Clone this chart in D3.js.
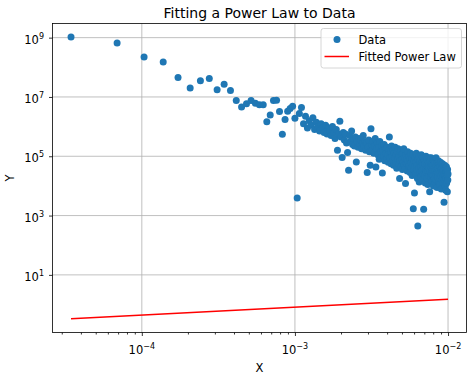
<!DOCTYPE html>
<html><head><meta charset="utf-8">
<script src="https://cdn.jsdelivr.net/npm/d3@7"></script>
<style>body{margin:0;background:#fff}svg{display:block;font-family:"DejaVu Sans",sans-serif}</style>
</head><body><svg id="c" width="474" height="381"></svg>
<script>
// ---- data ----
const title = "Fitting a Power Law to Data";
const xLabel = "X", yLabel = "Y";
const seriesNames = ["Data", "Fitted Power Law"];
const totalCount = 29000;
const ranks = [1,2,3,4,5,6,7,8,9,10,11,12,13,14,15,16,17,18,19,20,21,22,23,24,25,26,27,28,29,30,
31,32,33,34,35,36,37,38,39,40,41,42,43,44,45,46,47,48,49,50,51,52,53,54,55,56,57,58,59,60,
61,62,63,64,65,66,67,68,69,70,71,72,73,74,75,76,77,78,79,80,81,82,83,84,85,86,87,88,89,90,
91,92,93,94,95,96,97,98,99,100,101,102,103,104,105,106,107,108,109,110,111,112,113,114,115,116,117,118,119,120,
121,122,123,124,125,126,127,128,129,130,131,132,133,134,135,136,137,138,139,140,141,142,143,144,145,146,147,148,149,150,
151,152,153,154,155,156,157,158,159,160,161,162,163,164,165,166,167,168,169,170,171,172,173,174,175,176,177,178,179,180,
181,182,183,184,185,186,187,188,189,190,191,192,193,194,195,196,197,198,199,200,201,202,203,204,205,206,207,208,209,210,
211,212,213,214,215,216,217,218,219,220,221,222,223,224,225,226,227,228,229,230,231,232,233,234,235,236,237,238,239,240,
241,242,243,244,245,246,247,248,249,250,251,252,253,254,255,256,257,258,259,260,261,262,263,264,265,266,267,268,269,270,
271,272,273,274,275,276,277,278,279,280,281,282,283,284,285,286,287,288,289,290];
const yValues = [1.05e9,6.6e8,2.24e8,1.51e8,4.57e7,2.0e7,3.55e7,4.17e7,1.74e7,2.69e7,
1.66e7,7.59e6,4.57e6,5.89e6,7.59e6,6.17e6,5.5e6,5.5e6,1.45e6,2.45e6,
7.59e6,7.76e6,3.24e6,5.5e5,1.74e6,3.31e6,4.07e6,4.9e6,1.91e6,3.89e3,
2.75e6,4.37e6,1.26e6,2.24e6,8.91e5,1.58e6,1.12e6,2.0e6,7.94e5,1.41e6,
1.0e6,7.08e5,1.26e6,8.91e5,6.31e5,1.12e6,5.62e5,8.91e5,7.08e5,5.01e5,
1.0e6,6.31e5,3.98e5,7.94e5,1.58e5,5.62e5,1.51e6,4.47e5,9.12e4,6.31e5,
3.55e5,5.62e5,2.82e5,1.35e5,3.39e4,5.01e5,3.16e5,7.08e5,2.51e5,3.98e5,
2.24e5,4.47e5,6.46e4,3.16e5,2.0e5,3.98e5,2.51e5,3.55e5,1.78e5,2.82e5,
5.01e5,2.24e5,3.16e5,1.58e5,2.82e5,2.82e4,2.0e5,3.55e5,1.41e5,5.01e4,
8.51e5,2.51e5,1.58e5,3.16e5,1.26e5,2.24e5,3.98e5,4.37e4,1.78e5,2.82e5,
1.12e5,2.0e5,7.94e4,3.16e5,1.41e5,8.91e4,2.24e5,2.75e4,1.58e5,1.0e5,
2.51e5,7.08e4,1.78e5,1.26e5,7.94e4,2.0e5,1.12e5,6.31e4,1.58e5,4.47e5,
8.91e4,1.41e5,5.62e4,2.24e5,1.0e5,7.08e4,1.58e5,5.01e4,1.26e5,8.91e4,
2.0e5,6.31e4,1.12e5,3.98e4,1.41e5,7.94e4,1.78e5,5.62e4,1.0e5,1.78e4,
7.08e4,1.58e5,4.47e4,1.12e5,7.94e4,3.55e4,1.26e5,6.31e4,1.78e5,5.01e4,
8.91e4,3.98e4,1.2e4,1.12e5,5.62e4,7.94e4,3.16e4,1.41e5,7.08e4,4.47e4,
1.0e5,5.01e4,7.94e4,2.82e4,1.26e5,6.31e4,3.98e4,8.91e4,2.24e4,5.62e4,
1.12e5,1.7e3,3.55e4,7.08e4,5.75e3,4.47e4,8.91e4,2.51e4,6.31e4,1.26e5,
3.55e4,5.01e4,1.78e4,4.47e2,7.94e4,3.98e4,1.0e5,1.35e4,5.62e4,2.82e4,
7.08e4,2.0e4,4.47e4,1.12e5,3.16e4,6.31e4,1.58e4,5.01e4,8.91e4,2.51e4,
1.62e3,3.98e4,7.08e4,2.24e4,5.62e4,1.26e4,3.55e4,1.0e5,2.82e4,5.01e4,
1.78e4,7.94e4,3.16e4,1.12e4,4.47e4,6.31e4,2.24e4,3.98e4,8.91e4,6.31e3,
3.16e4,7.08e4,2.0e4,4.47e4,8.91e4,2.51e4,5.62e4,1.41e4,3.55e4,7.94e4,
2.24e4,5.01e4,1.0e4,3.98e4,7.08e4,1.78e4,3.16e4,6.31e4,1.26e4,4.47e4,
2.51e4,8.91e4,1.58e4,3.55e4,5.62e4,8.91e3,2.82e4,5.01e4,2.0e4,3.98e4,
7.08e4,1.41e4,3.16e4,5.62e4,1.12e4,2.51e4,4.47e4,1.78e4,6.31e4,2.24e4,
3.55e4,7.94e3,5.01e4,2.82e4,1.58e4,3.98e4,5.62e4,2.0e4,3.16e4,1.26e4,
4.47e4,2.51e4,2.82e3,3.55e4,1.58e4,5.01e4,2.24e4,1.0e4,3.98e4,7.08e3,
2.82e4,1.78e4,4.47e4,1.26e4,3.16e4,2.24e4,6.31e3,3.55e4,1.58e4,2.51e4];
const fitX = [3.448e-5, 1.0e-2];
const fitY = [0.33, 1.51];
const xTicks = [1e-4, 1e-3, 1e-2];
const xTickExp = ["\u22124", "\u22123", "\u22122"];
const yTicks = [1e1, 1e3, 1e5, 1e7, 1e9];
const yTickExp = ["1", "3", "5", "7", "9"];
const xDomain = [2.61e-5, 1.32e-2];
const yDomain = [1.14e-1, 3.0e9];

// ---- layout ----
const svg = d3.select("#c");
const L = 52.5, R = 466.5, T = 23.5, B = 332.5;
const x = d3.scaleLog().domain(xDomain).range([L, R]);
const y = d3.scaleLog().domain(yDomain).range([B, T]);
const blue = "#1f77b4";
const fs = 11.5, fsSup = 8;

// grid
const grid = svg.append("g").attr("stroke", "#b0b0b0").attr("stroke-width", 0.8);
xTicks.forEach(t => grid.append("line").attr("x1", x(t)).attr("x2", x(t)).attr("y1", T).attr("y2", B));
yTicks.forEach(t => grid.append("line").attr("y1", y(t)).attr("y2", y(t)).attr("x1", L).attr("x2", R));

// data
const pts = ranks.map((r, i) => [r / totalCount, yValues[i]]);
svg.append("g").selectAll("circle").data(pts).join("circle")
  .attr("cx", d => x(d[0])).attr("cy", d => y(d[1])).attr("r", 3.5).attr("fill", blue);

// fitted line
svg.append("path").datum(fitX.map((v, i) => [v, fitY[i]]))
  .attr("d", d3.line().x(d => x(d[0])).y(d => y(d[1])))
  .attr("stroke", "#ff0000").attr("stroke-width", 1.5).attr("fill", "none");

// axes
svg.append("g").attr("transform", `translate(0,${B})`)
  .call(d3.axisBottom(x).tickValues(xTicks).tickSize(3.5).tickFormat(""));
const minor = [];
[1e-5, 1e-4, 1e-3].forEach(d => { for (let m = 2; m <= 9; m++) { const v = m * d; if (v >= xDomain[0] && v <= xDomain[1]) minor.push(v); } });
svg.append("g").attr("transform", `translate(0,${B})`)
  .call(d3.axisBottom(x).tickValues(minor).tickSize(2).tickFormat(""));
svg.append("g").attr("transform", `translate(${L},0)`)
  .call(d3.axisLeft(y).tickValues(yTicks).tickSize(3.5).tickFormat(""));
svg.selectAll(".domain").remove();
svg.selectAll(".tick line").attr("stroke", "#000").attr("stroke-width", 0.8);

// tick labels
xTicks.forEach((t, i) => {
  const tx = svg.append("text").attr("x", x(t)).attr("y", B + 21.5).attr("text-anchor", "middle")
    .attr("font-size", fs).attr("fill", "#000");
  tx.append("tspan").text("10");
  tx.append("tspan").attr("dy", -5).attr("font-size", fsSup).text(xTickExp[i]);
});
yTicks.forEach((t, i) => {
  const tx = svg.append("text").attr("x", L - 8.5).attr("y", y(t) + 6.2).attr("text-anchor", "end")
    .attr("font-size", fs).attr("fill", "#000");
  tx.append("tspan").text("10");
  tx.append("tspan").attr("dy", -5).attr("font-size", fsSup).text(yTickExp[i]);
});

// frame
svg.append("rect").attr("x", L).attr("y", T).attr("width", R - L).attr("height", B - T)
  .attr("fill", "none").attr("stroke", "#000").attr("stroke-width", 0.8);

// labels
svg.append("text").attr("x", (L + R) / 2).attr("y", 17.5).attr("text-anchor", "middle")
  .attr("font-size", 14).text(title);
svg.append("text").attr("x", (L + R) / 2).attr("y", 372).attr("text-anchor", "middle")
  .attr("font-size", fs).text(xLabel);
svg.append("text").attr("transform", `translate(14,${(T + B) / 2}) rotate(-90)`).attr("text-anchor", "middle")
  .attr("font-size", fs).text(yLabel);

// legend
const lg = svg.append("g");
lg.append("rect").attr("x", 321).attr("y", 28.5).attr("width", 140.5).attr("height", 39.5).attr("rx", 2.5)
  .attr("fill", "#fff").attr("fill-opacity", 0.8).attr("stroke", "#cccccc").attr("stroke-width", 0.8);
lg.append("circle").attr("cx", 337).attr("cy", 39.5).attr("r", 3.5).attr("fill", blue);
lg.append("line").attr("x1", 324.5).attr("x2", 349).attr("y1", 56.5).attr("y2", 56.5)
  .attr("stroke", "#ff0000").attr("stroke-width", 1.5);
lg.append("text").attr("x", 358.5).attr("y", 43.5).attr("font-size", fs).text(seriesNames[0]);
lg.append("text").attr("x", 358.5).attr("y", 60.7).attr("font-size", fs).text(seriesNames[1]);
</script></body></html>
